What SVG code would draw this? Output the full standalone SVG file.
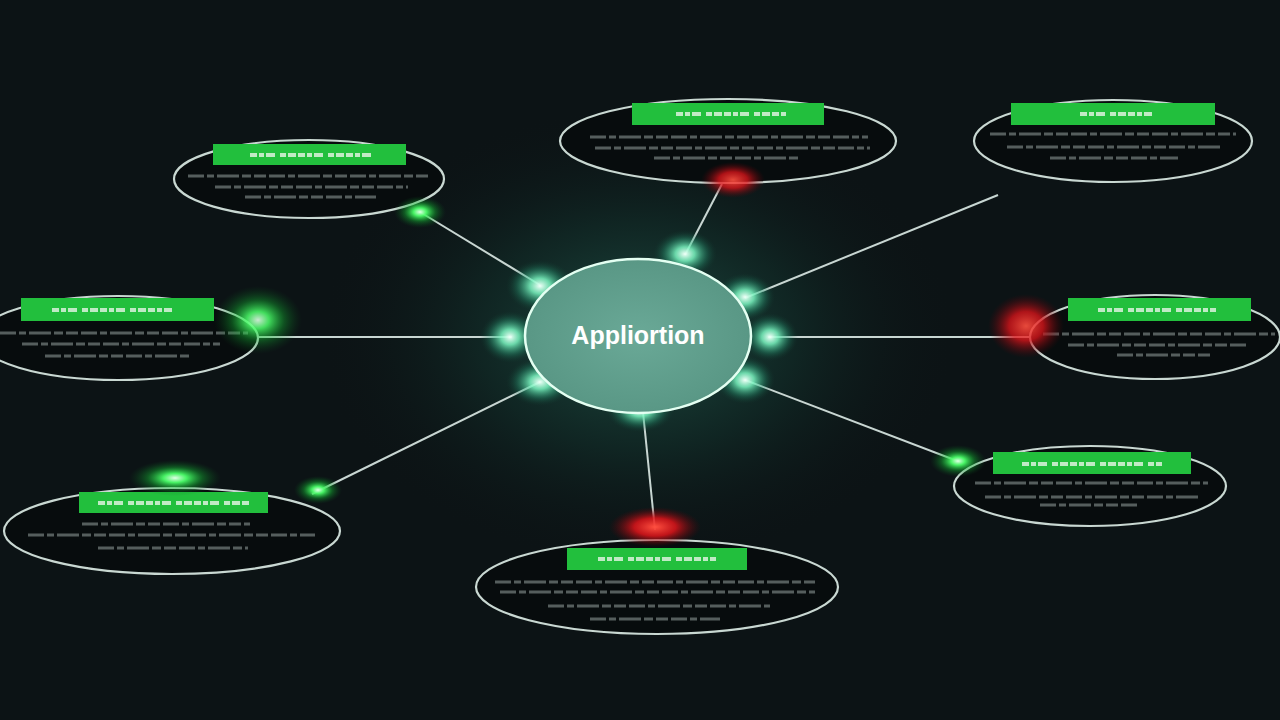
<svg xmlns="http://www.w3.org/2000/svg" width="1280" height="720" viewBox="0 0 1280 720">
<defs>
<style>
.bg{fill:#0c1315}
.node{fill:#070c0d;stroke:#c9d8d2;stroke-width:2.2}
.bar{fill:#22bf3d}
.bartxt{stroke:#e8f5e8;stroke-width:4;stroke-dasharray:7 2 5 2 9 5 6 2 8 2;opacity:0.8}
.ln{stroke:#a3b0ad;stroke-width:3;stroke-dasharray:16 3 7 3 22 3 9 3 12 3;opacity:0.5}
.conn{stroke:#c8d6d2;stroke-width:2;fill:none}
.label{font-family:"Liberation Sans",Arial,sans-serif;font-size:25px;font-weight:bold;fill:#ffffff;text-anchor:middle}
</style>
<radialGradient id="bgGlow" cx="0.5" cy="0.5" r="0.5">
<stop offset="0" stop-color="#21574a" stop-opacity="0.9"/>
<stop offset="0.5" stop-color="#13342e" stop-opacity="0.55"/>
<stop offset="1" stop-color="#0c1315" stop-opacity="0"/>
</radialGradient>
<radialGradient id="centerFill" cx="0.5" cy="0.5" r="0.6">
<stop offset="0" stop-color="#6aa997"/>
<stop offset="0.8" stop-color="#5a9886"/>
<stop offset="1" stop-color="#4d8a78"/>
</radialGradient>
<radialGradient id="gGlow" cx="0.5" cy="0.5" r="0.5">
<stop offset="0" stop-color="#e0ffe6" stop-opacity="1"/>
<stop offset="0.25" stop-color="#4cff6a" stop-opacity="0.95"/>
<stop offset="0.6" stop-color="#16c036" stop-opacity="0.4"/>
<stop offset="1" stop-color="#0a6020" stop-opacity="0"/>
</radialGradient>
<radialGradient id="tGlow" cx="0.5" cy="0.5" r="0.5">
<stop offset="0" stop-color="#f0fff8" stop-opacity="1"/>
<stop offset="0.3" stop-color="#7af5c0" stop-opacity="0.85"/>
<stop offset="0.7" stop-color="#2aa078" stop-opacity="0.3"/>
<stop offset="1" stop-color="#104030" stop-opacity="0"/>
</radialGradient>
<radialGradient id="rGlow" cx="0.5" cy="0.5" r="0.5">
<stop offset="0" stop-color="#ff5040" stop-opacity="1"/>
<stop offset="0.45" stop-color="#e0141a" stop-opacity="0.85"/>
<stop offset="1" stop-color="#600008" stop-opacity="0"/>
</radialGradient>
</defs>

<rect class="bg" x="0" y="0" width="1280" height="720"/>
<ellipse cx="638" cy="336" rx="320" ry="230" fill="url(#bgGlow)"/>

<g id="connectors">
<line class="conn" x1="540" y1="285" x2="420" y2="212"/>
<line class="conn" x1="685" y1="255" x2="722" y2="184"/>
<line class="conn" x1="745" y1="298" x2="998" y2="195"/>
<line class="conn" x1="258" y1="337" x2="512" y2="337"/>
<line class="conn" x1="768" y1="337" x2="1032" y2="337"/>
<line class="conn" x1="540" y1="382" x2="312" y2="494"/>
<line class="conn" x1="643" y1="412" x2="655" y2="530"/>
<line class="conn" x1="745" y1="380" x2="960" y2="462"/>
</g>

<g id="node-center">
<ellipse cx="540" cy="286" rx="34" ry="26" fill="url(#tGlow)"/>
<ellipse cx="685" cy="254" rx="32" ry="24" fill="url(#tGlow)"/>
<ellipse cx="745" cy="297" rx="30" ry="24" fill="url(#tGlow)"/>
<ellipse cx="770" cy="337" rx="28" ry="24" fill="url(#tGlow)"/>
<ellipse cx="745" cy="380" rx="30" ry="24" fill="url(#tGlow)"/>
<ellipse cx="640" cy="410" rx="34" ry="22" fill="url(#tGlow)"/>
<ellipse cx="540" cy="382" rx="34" ry="24" fill="url(#tGlow)"/>
<ellipse cx="510" cy="337" rx="30" ry="26" fill="url(#tGlow)"/>
<ellipse cx="638" cy="336" rx="113" ry="77" fill="url(#centerFill)" stroke="#e4fff2" stroke-width="2.5"/>
<text class="label" x="638" y="344">Appliortion</text>
</g>

<g id="node-top-center">
<ellipse class="node" cx="728" cy="141" rx="168" ry="42"/>
<rect class="bar" x="632" y="103" width="192" height="22"/>
<line class="bartxt" x1="676" y1="114" x2="788" y2="114"/>
<line class="ln" x1="590" y1="137" x2="868" y2="137"/>
<line class="ln" x1="595" y1="148" x2="870" y2="148"/>
<line class="ln" x1="654" y1="158" x2="800" y2="158"/>
</g>

<g id="node-top-right">
<ellipse class="node" cx="1113" cy="141" rx="139" ry="41"/>
<rect class="bar" x="1011" y="103" width="204" height="22"/>
<line class="bartxt" x1="1080" y1="114" x2="1152" y2="114"/>
<line class="ln" x1="990" y1="134" x2="1236" y2="134"/>
<line class="ln" x1="1007" y1="147" x2="1220" y2="147"/>
<line class="ln" x1="1050" y1="158" x2="1178" y2="158"/>
</g>

<g id="node-top-left">
<ellipse class="node" cx="309" cy="179" rx="135" ry="39"/>
<rect class="bar" x="213" y="144" width="193" height="21"/>
<line class="bartxt" x1="250" y1="155" x2="372" y2="155"/>
<line class="ln" x1="188" y1="176" x2="430" y2="176"/>
<line class="ln" x1="215" y1="187" x2="408" y2="187"/>
<line class="ln" x1="245" y1="197" x2="376" y2="197"/>
</g>

<g id="node-left">
<ellipse class="node" cx="118" cy="338" rx="140" ry="42"/>
<rect class="bar" x="21" y="298" width="193" height="23"/>
<line class="bartxt" x1="52" y1="310" x2="172" y2="310"/>
<line class="ln" x1="0" y1="333" x2="248" y2="333"/>
<line class="ln" x1="22" y1="344" x2="220" y2="344"/>
<line class="ln" x1="45" y1="356" x2="192" y2="356"/>
</g>

<g id="node-right">
<ellipse class="node" cx="1155" cy="337" rx="125" ry="42"/>
<rect class="bar" x="1068" y="298" width="183" height="23"/>
<line class="bartxt" x1="1098" y1="310" x2="1216" y2="310"/>
<line class="ln" x1="1043" y1="334" x2="1275" y2="334"/>
<line class="ln" x1="1068" y1="345" x2="1248" y2="345"/>
<line class="ln" x1="1117" y1="355" x2="1210" y2="355"/>
</g>

<g id="node-bottom-left">
<ellipse class="node" cx="172" cy="531" rx="168" ry="43"/>
<rect class="bar" x="79" y="492" width="189" height="21"/>
<line class="bartxt" x1="98" y1="503" x2="250" y2="503"/>
<line class="ln" x1="82" y1="524" x2="250" y2="524"/>
<line class="ln" x1="28" y1="535" x2="315" y2="535"/>
<line class="ln" x1="98" y1="548" x2="248" y2="548"/>
</g>

<g id="node-bottom-center">
<ellipse class="node" cx="657" cy="587" rx="181" ry="47"/>
<rect class="bar" x="567" y="548" width="180" height="22"/>
<line class="bartxt" x1="598" y1="559" x2="716" y2="559"/>
<line class="ln" x1="495" y1="582" x2="815" y2="582"/>
<line class="ln" x1="500" y1="592" x2="815" y2="592"/>
<line class="ln" x1="548" y1="606" x2="770" y2="606"/>
<line class="ln" x1="590" y1="619" x2="720" y2="619"/>
</g>

<g id="node-bottom-right">
<ellipse class="node" cx="1090" cy="486" rx="136" ry="40"/>
<rect class="bar" x="993" y="452" width="198" height="22"/>
<line class="bartxt" x1="1022" y1="464" x2="1162" y2="464"/>
<line class="ln" x1="975" y1="483" x2="1208" y2="483"/>
<line class="ln" x1="985" y1="497" x2="1200" y2="497"/>
<line class="ln" x1="1040" y1="505" x2="1140" y2="505"/>
</g>

<g id="glows">
<ellipse cx="733" cy="180" rx="32" ry="18" fill="url(#rGlow)" opacity="0.9"/>
<ellipse cx="420" cy="212" rx="26" ry="16" fill="url(#gGlow)"/>
<ellipse cx="258" cy="320" rx="44" ry="34" fill="url(#gGlow)" opacity="0.9"/>
<ellipse cx="1026" cy="326" rx="38" ry="32" fill="url(#rGlow)" opacity="0.9"/>
<ellipse cx="175" cy="478" rx="46" ry="18" fill="url(#gGlow)"/>
<ellipse cx="318" cy="490" rx="24" ry="14" fill="url(#gGlow)"/>
<ellipse cx="655" cy="527" rx="46" ry="20" fill="url(#rGlow)"/>
<ellipse cx="958" cy="461" rx="28" ry="16" fill="url(#gGlow)"/>
</g>
</svg>
